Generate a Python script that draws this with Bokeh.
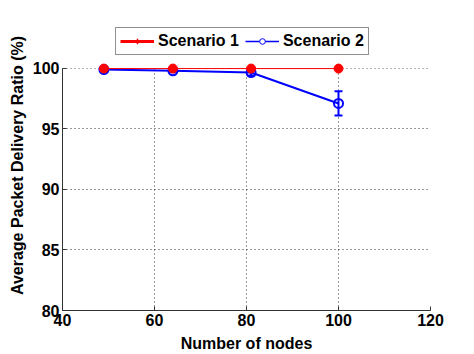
from bokeh.plotting import figure
from bokeh.models import (Legend, LegendItem, Whisker, ColumnDataSource, FixedTicker, Range1d,
                          TeeHead, BoxAnnotation)
from bokeh.embed import file_html
from bokeh.resources import INLINE

nodes = [49, 64, 81, 100]
s1 = [99.98, 99.98, 99.98, 99.98]
s1_err = [0.05, 0.05, 0.05, 0.05]
s2 = [99.9, 99.8, 99.65, 97.1]
s2_err = [0.12, 0.12, 0.25, 1.0]
x_ticks = [40, 60, 80, 100, 120]
y_ticks = [80, 85, 90, 95, 100]
labels = ["Scenario 1", "Scenario 2"]

FONT = "Liberation Sans"
Y_MIN, Y_MAX = y_ticks[0], y_ticks[-1]
Y_TOP = 103.95  # extra headroom above the axes so the legend sits above them

p = figure(width=474, height=354, x_range=Range1d(40, 120), y_range=Range1d(Y_MIN, Y_TOP),
           output_backend="svg", toolbar_location=None,
           min_border_left=62, min_border_right=44, min_border_top=20, min_border_bottom=43)
p.extra_y_ranges = {"hidden": Range1d(start=1000, end=1001)}
p.outline_line_color = None
p.background_fill_color = "white"
p.border_fill_color = "white"

for ax in (p.xaxis[0], p.yaxis[0]):
    ax.major_label_text_font = FONT
    ax.major_label_text_font_style = "bold"
    ax.major_label_text_font_size = "16px"
    ax.major_label_text_color = "black"
    ax.axis_label_text_font = FONT
    ax.axis_label_text_font_style = "bold"
    ax.axis_label_text_font_size = "16px"
    ax.axis_label_text_color = "black"
    ax.axis_line_color = "#333333"
    ax.major_tick_line_color = "#333333"
    ax.major_tick_in = 4
    ax.major_tick_out = 0
    ax.minor_tick_line_color = None

p.yaxis.bounds = (Y_MIN, Y_MAX)
p.xaxis.ticker = FixedTicker(ticks=x_ticks)
p.yaxis.ticker = FixedTicker(ticks=y_ticks)
p.xaxis.axis_label = "Number of nodes"
p.yaxis.axis_label = "Average Packet Delivery Ratio (%)"
p.xaxis.major_label_standoff = 3
p.xaxis.axis_label_standoff = 6
p.yaxis.major_label_standoff = 3
p.yaxis.axis_label_standoff = 4
p.yaxis.axis_label_align = "center"

for g in (p.xgrid[0], p.ygrid[0]):
    g.grid_line_color = "#333333"
    g.grid_line_dash = "1 3"
    g.grid_line_width = 1
p.xgrid.ticker = FixedTicker(ticks=x_ticks)
p.ygrid.ticker = FixedTicker(ticks=y_ticks)

# white cover over the headroom region (hides grid lines above the axes)
cover = BoxAnnotation(bottom=Y_MAX, fill_color="white", fill_alpha=1, line_color=None,
                      level="underlay")
p.add_layout(cover)

src1 = ColumnDataSource(dict(x=nodes, y=s1,
                             lo=[v - e for v, e in zip(s1, s1_err)],
                             hi=[v + e for v, e in zip(s1, s1_err)]))
src2 = ColumnDataSource(dict(x=nodes, y=s2,
                             lo=[v - e for v, e in zip(s2, s2_err)],
                             hi=[v + e for v, e in zip(s2, s2_err)]))

red = "#ff0000"
blue = "#0000ff"

l2 = p.line("x", "y", source=src2, color=blue, line_width=2)
w2 = Whisker(base="x", lower="lo", upper="hi", source=src2, line_color=blue, line_width=2,
             upper_head=TeeHead(size=8, line_color=blue, line_width=2),
             lower_head=TeeHead(size=8, line_color=blue, line_width=2))
p.add_layout(w2)
m2 = p.scatter("x", "y", source=src2, marker="circle", size=9, fill_color=None,
               line_color=blue, line_width=2)

l1 = p.line("x", "y", source=src1, color=red, line_width=1)
m1 = p.scatter("x", "y", source=src1, marker="circle", size=9, fill_color=red, line_color=red)

# legend-only renderers (same data, drawn on an off-screen range)
lg1 = p.line("x", "y", source=src1, color=red, line_width=3, y_range_name="hidden")
lgm1 = p.scatter("x", "y", source=src1, marker="cross", size=6, line_color=red, line_width=1.5,
                 y_range_name="hidden")
lg2 = p.line("x", "y", source=src2, color=blue, line_width=1.5, y_range_name="hidden")
lgm2 = p.scatter("x", "y", source=src2, marker="circle", size=7, fill_color="white",
                 line_color=blue, line_width=1, y_range_name="hidden")

legend = Legend(items=[LegendItem(label=labels[0], renderers=[lg1, lgm1]),
                       LegendItem(label=labels[1], renderers=[lg2, lgm2])],
                orientation="horizontal", location=(53, 255),
                label_text_font=FONT, label_text_font_style="bold", label_text_font_size="16px",
                label_text_color="black", glyph_width=34, glyph_height=14,
                label_standoff=4, spacing=6, padding=4, margin=0,
                border_line_color="#222222", border_line_width=1,
                background_fill_color="white", background_fill_alpha=1)
p.add_layout(legend, "center")

open("out.html", "w").write(file_html(p, INLINE))
